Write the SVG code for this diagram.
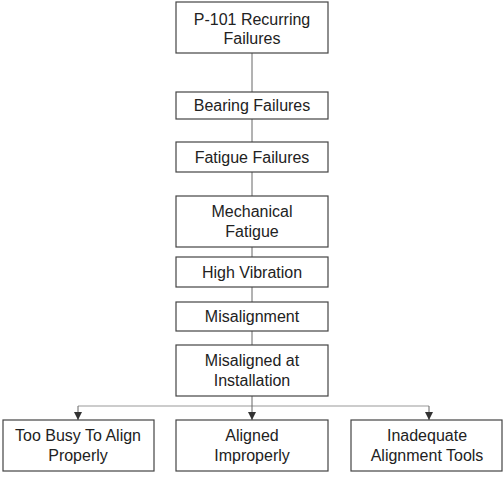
<svg xmlns="http://www.w3.org/2000/svg" width="504" height="478" viewBox="0 0 504 478">
<defs>
<marker id="arr" viewBox="0 0 8 8" refX="8" refY="4" markerWidth="8" markerHeight="8" markerUnits="userSpaceOnUse" orient="auto">
<path d="M0,0 L8,4 L0,8 Z" fill="#333"/>
</marker>
<style>
.box{fill:#fff;stroke:#444;stroke-width:1.2}
.t{font-family:"Liberation Sans",Arial,sans-serif;font-size:16px;fill:#222;text-anchor:middle}
.c{stroke:#666;stroke-width:1;fill:none}
.h{stroke:#999;stroke-width:1.2;fill:none}
</style>
</defs>
<rect width="504" height="478" fill="#fff"/>
<g id="connectors">
<line class="c" x1="252" y1="53" x2="252" y2="92"/>
<line class="c" x1="252" y1="119" x2="252" y2="142"/>
<line class="c" x1="252" y1="172" x2="252" y2="196"/>
<line class="c" x1="252" y1="247" x2="252" y2="257"/>
<line class="c" x1="252" y1="287" x2="252" y2="302"/>
<line class="c" x1="252" y1="331" x2="252" y2="345"/>
<line class="h" x1="78" y1="406" x2="429" y2="406"/>
<line class="c" x1="252" y1="396" x2="252" y2="420" marker-end="url(#arr)"/>
<line class="c" x1="78" y1="406" x2="78" y2="420" marker-end="url(#arr)"/>
<line class="c" x1="429" y1="406" x2="429" y2="420" marker-end="url(#arr)"/>
</g>
<g id="n1"><rect class="box" x="176" y="2" width="152" height="51"/><text class="t" x="252" y="25">P-101 Recurring</text><text class="t" x="252" y="44">Failures</text></g>
<g id="n2"><rect class="box" x="176" y="92" width="152" height="27"/><text class="t" x="252" y="111">Bearing Failures</text></g>
<g id="n3"><rect class="box" x="176" y="142" width="152" height="30"/><text class="t" x="252" y="163">Fatigue Failures</text></g>
<g id="n4"><rect class="box" x="176" y="196" width="152" height="51"/><text class="t" x="252" y="217">Mechanical</text><text class="t" x="252" y="237">Fatigue</text></g>
<g id="n5"><rect class="box" x="176" y="257" width="152" height="30"/><text class="t" x="252" y="278">High Vibration</text></g>
<g id="n6"><rect class="box" x="176" y="302" width="152" height="29"/><text class="t" x="252" y="322">Misalignment</text></g>
<g id="n7"><rect class="box" x="176" y="345" width="152" height="51"/><text class="t" x="252" y="366">Misaligned at</text><text class="t" x="252" y="386">Installation</text></g>
<g id="n8"><rect class="box" x="3" y="420" width="151" height="51"/><text class="t" x="78" y="441">Too Busy To Align</text><text class="t" x="78" y="461">Properly</text></g>
<g id="n9"><rect class="box" x="176" y="420" width="152" height="51"/><text class="t" x="252" y="441">Aligned</text><text class="t" x="252" y="461">Improperly</text></g>
<g id="n10"><rect class="box" x="351" y="420" width="151" height="51"/><text class="t" x="427" y="441">Inadequate</text><text class="t" x="427" y="461">Alignment Tools</text></g>
</svg>
